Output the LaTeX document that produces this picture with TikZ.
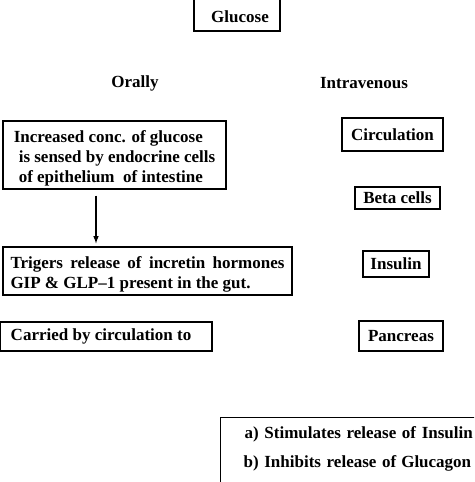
\documentclass[tikz,border=0pt]{standalone}
\usepackage{fontspec}
\setmainfont{Liberation Serif}
\usepackage{tikz}
\usetikzlibrary{arrows}

\begin{document}
\begin{tikzpicture}[x=1pt,y=-1pt,
    txt/.style={font=\fontsize{17}{20}\selectfont\bfseries},
    box/.style={txt,draw,line width=1.2pt,inner sep=0pt}]
      \useasboundingbox (0,0) rectangle (474,482);
      \clip (0,0) rectangle (474,482);

      % Top
      \node [box,minimum width=86,minimum height=36] (glucose) at (237,13)
        {\hspace*{6pt}\raisebox{-4pt}[\height][\depth]{Glucose}};
      \node [txt] (orally) at (135,83) {Orally};
      \node [txt] (iv) at (364,83) {Intravenous};

      % Orally
      \node [box,minimum width=223,minimum height=68] (sensed) at (114.5,155)
        {\raisebox{-3pt}[\height][\depth]{\begin{tabular}{@{}l@{}}Increased conc. of glucose\\
         \hspace*{5pt}is sensed by endocrine cells\\
         \hspace*{5pt}of epithelium\ \ of intestine\end{tabular}}};
      \node [box,minimum width=289,minimum height=48] (incretin) at (147.5,271)
        {\raisebox{-3pt}[\height][\depth]{\begin{tabular}{@{}l@{}}\makebox[274pt][s]{Trigers release of incretin hormones}\\
         GIP \& GLP--1 present in the gut.\end{tabular}}};
      \node [box,minimum width=212,minimum height=29] (carried) at (106,336.5)
        {Carried by circulation to\hspace*{10pt}};

      % Intravenous
      \node [box,minimum width=101,minimum height=33] (circ) at (392.5,134.5) {Circulation};
      \node [box,minimum width=85,minimum height=22] (beta) at (397.5,198) {Beta cells};
      \node [box,minimum width=66,minimum height=26] (insulin) at (396,264) {Insulin};
      \node [box,minimum width=84,minimum height=30] (pancreas) at (401,336) {Pancreas};

      % Effects
      \node [box,anchor=north west,minimum width=270,minimum height=80,
             inner xsep=23pt,inner ysep=0pt,text width=250] (effects) at (220,417)
        {\raisebox{9pt}[\height][\depth]{\begin{tabular}{@{}l@{}}\hspace*{1pt}a) Stimulates release of Insulin\\[9pt]
         b) Inhibits release of\hspace{5pt}Glucagon\end{tabular}}};

      % Edges
      \coordinate (arrowx) at (96,0);
      \draw [-latex,line width=1.5pt,shorten <=6pt,shorten >=3pt]
        (sensed.south -| arrowx) -- (incretin.north -| arrowx);
\end{tikzpicture}
\end{document}
